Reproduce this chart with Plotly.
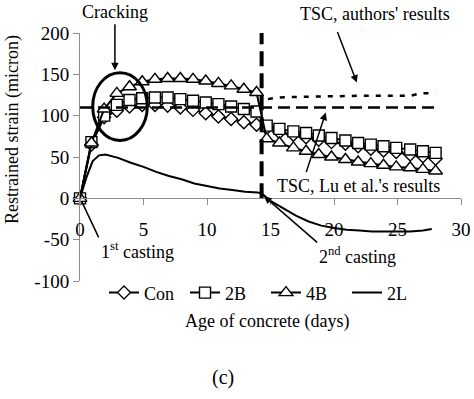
import plotly.graph_objects as go

# ---------------- data ----------------
days_markers = [0, 0.9, 1.9, 2.9, 3.9, 4.9, 5.9, 6.9, 7.9, 8.9, 9.9, 10.9, 11.9, 12.9, 13.9,
                14.7, 15.7, 16.8, 17.8, 18.8, 19.8, 20.9, 21.9, 22.9, 23.9, 24.9, 26.0, 27.0, 28.0]
con_vals = [0, 65, 98, 106, 111, 113, 113, 112, 110, 107, 103, 99, 96, 92, 89,
            85, 80, 77, 74, 71, 68, 66, 63, 60, 58, 56, 53, 51, 48]
b2_vals = [0, 68, 100, 113, 119, 121, 122, 122, 120, 118, 116, 114, 111, 108, 105,
           88, 84, 81, 79, 76, 73, 70, 67, 65, 63, 61, 59, 57, 55]
b4_vals = [0, 67, 108, 127, 135, 141, 144, 145, 145, 144, 142, 139, 136, 132, 128,
           72, 67, 61, 57, 53, 50, 47, 44, 42, 40, 38, 37, 35, 33]

days_2l = [0, 0.5, 1, 1.5, 2, 3, 4, 5, 6, 7, 8, 9, 10, 11, 12, 13, 14, 14.3,
           15, 16, 17, 18, 19, 20, 21, 22, 23, 24, 25, 26, 27, 27.7]
l2_vals = [0, 25, 45, 52, 53, 49, 43, 38, 32, 27, 23, 18, 15, 12, 10, 8, 7, 6,
           -3, -12, -21, -28, -33, -36, -38, -39, -40, -40, -40, -40, -39, -37]

tsc_lu_days = [0, 28]
tsc_lu_vals = [110, 110]
tsc_auth_days = [14.8, 15.5, 18, 22, 26, 26.8, 28]
tsc_auth_vals = [120, 122, 123, 124, 124, 127, 127]

second_cast_days = [14.3, 14.3]
second_cast_vals = [0, 200]

x_ticks = [0, 5, 10, 15, 20, 25, 30]
y_ticks = [-100, -50, 0, 50, 100, 150, 200]
y_ticktext = ["-100", "-50", "0", "50", "100", "150", "200"]

series_names = ["Con", "2B", "4B", "2L"]

# ---------------- figure ----------------
FONT = "Liberation Serif"
fig = go.Figure()

mk_line = dict(color="black", width=1.4)
fig.add_trace(go.Scatter(x=days_markers, y=con_vals, name=series_names[0], mode="lines+markers",
                         line=dict(color="black", width=2),
                         marker=dict(symbol="diamond", size=10, color="white", line=mk_line),
                         cliponaxis=False))
fig.add_trace(go.Scatter(x=days_markers, y=b2_vals, name=series_names[1], mode="lines+markers",
                         line=dict(color="black", width=2),
                         marker=dict(symbol="square", size=11, color="white", line=mk_line),
                         cliponaxis=False))
fig.add_trace(go.Scatter(x=days_markers, y=b4_vals, name=series_names[2], mode="lines+markers",
                         line=dict(color="black", width=2),
                         marker=dict(symbol="triangle-up", size=12, color="white", line=mk_line),
                         cliponaxis=False))
fig.add_trace(go.Scatter(x=days_2l, y=l2_vals, name=series_names[3], mode="lines",
                         line=dict(color="black", width=2), cliponaxis=False))

fig.add_trace(go.Scatter(x=tsc_lu_days, y=tsc_lu_vals, mode="lines", showlegend=False,
                         line=dict(color="black", width=2.5, dash="12px,6px"), hoverinfo="skip"))
fig.add_trace(go.Scatter(x=tsc_auth_days, y=tsc_auth_vals, mode="lines", showlegend=False,
                         line=dict(color="black", width=2.5, dash="5px,7px"), hoverinfo="skip"))
fig.add_trace(go.Scatter(x=second_cast_days, y=second_cast_vals, mode="lines", showlegend=False,
                         line=dict(color="black", width=4, dash="15px,7px"), hoverinfo="skip",
                         cliponaxis=False))

# cracking circle
fig.add_shape(type="circle", xref="x", yref="y", x0=1.0, x1=5.3, y0=70, y1=152,
              line=dict(color="black", width=3))

axis_gray = "#8c8c8c"
fig.update_xaxes(range=[0, 30], tickvals=x_ticks, showline=True, linecolor=axis_gray, linewidth=1,
                 ticks="outside", ticklen=6, tickcolor=axis_gray, showgrid=False, zeroline=False,
                 anchor="free", position=1/3, tickfont=dict(family=FONT, size=19, color="black"),
                 ticklabelstandoff=8, automargin=False)
fig.update_yaxes(range=[-100, 200], tickvals=y_ticks, ticktext=y_ticktext, showline=True,
                 linecolor=axis_gray, linewidth=1, ticks="outside", ticklen=6, tickcolor=axis_gray,
                 showgrid=False, zeroline=False, tickfont=dict(family=FONT, size=19, color="black"),
                 automargin=False)

arrow = dict(arrowcolor="black", arrowwidth=1.5, arrowsize=1)
ann = []
ann.append(dict(text="Cracking", xref="x", yref="y", x=2.75, y=155, ax=0, ay=-46,
                showarrow=True, arrowhead=2, xanchor="center", yanchor="bottom",
                font=dict(size=18), **arrow))
ann.append(dict(text="TSC, authors' results", xref="paper", yref="paper", x=0.774, y=1.077,
                xanchor="center", yanchor="middle", showarrow=False, font=dict(size=18)))
ann.append(dict(text="TSC, Lu et al.'s results", xref="x", yref="y", x=21.9, y=14.6,
                xanchor="center", yanchor="middle", showarrow=False, font=dict(size=18)))
ann.append(dict(text="1<sup>st</sup> casting", xref="x", yref="y", x=0.13, y=-3.7, ax=17, ay=36,
                showarrow=True, arrowhead=0, xanchor="left", yanchor="top",
                font=dict(size=18), **arrow))
ann.append(dict(text="2<sup>nd</sup> casting", xref="x", yref="y", x=14.5, y=2.4, ax=53, ay=46,
                showarrow=True, arrowhead=2, xanchor="left", yanchor="top",
                font=dict(size=18), **arrow))
ann.append(dict(text="Restrained strain (micron)", xref="paper", yref="paper", x=-0.176, y=0.613,
                xanchor="center", yanchor="middle", textangle=-90, showarrow=False,
                font=dict(size=18)))
ann.append(dict(text="Age of concrete (days)", xref="paper", yref="paper", x=0.49, y=-0.165,
                xanchor="center", yanchor="middle", showarrow=False, font=dict(size=18)))
ann.append(dict(text="(c)", xref="paper", yref="paper", x=0.375, y=-0.391,
                xanchor="center", yanchor="middle", showarrow=False, font=dict(size=20)))
# arrows for the two TSC labels
ann.append(dict(text="", xref="x", yref="y", x=21.8, y=140, ax=-20, ay=-52, showarrow=True,
                arrowhead=2, **arrow))
ann.append(dict(text="", xref="x", yref="y", x=19.35, y=103.7, ax=-20, ay=61, showarrow=True,
                arrowhead=2, **arrow))

fig.update_layout(
    width=474, height=399,
    margin=dict(l=80, r=13, t=33, b=118, pad=0),
    paper_bgcolor="white", plot_bgcolor="white",
    font=dict(family=FONT, size=18, color="black"),
    showlegend=True,
    legend=dict(orientation="h", x=0.063, xanchor="left", y=-0.048, yanchor="middle",
                font=dict(family=FONT, size=18), bgcolor="rgba(0,0,0,0)", itemwidth=30,
                entrywidth=36, entrywidthmode="pixels"),
    annotations=ann,
)

# remove the default 8px page margin so the figure sits at the window's corner
fig.write_html("out.html", config={"displayModeBar": False},
               post_script="document.body.style.margin='0';")
